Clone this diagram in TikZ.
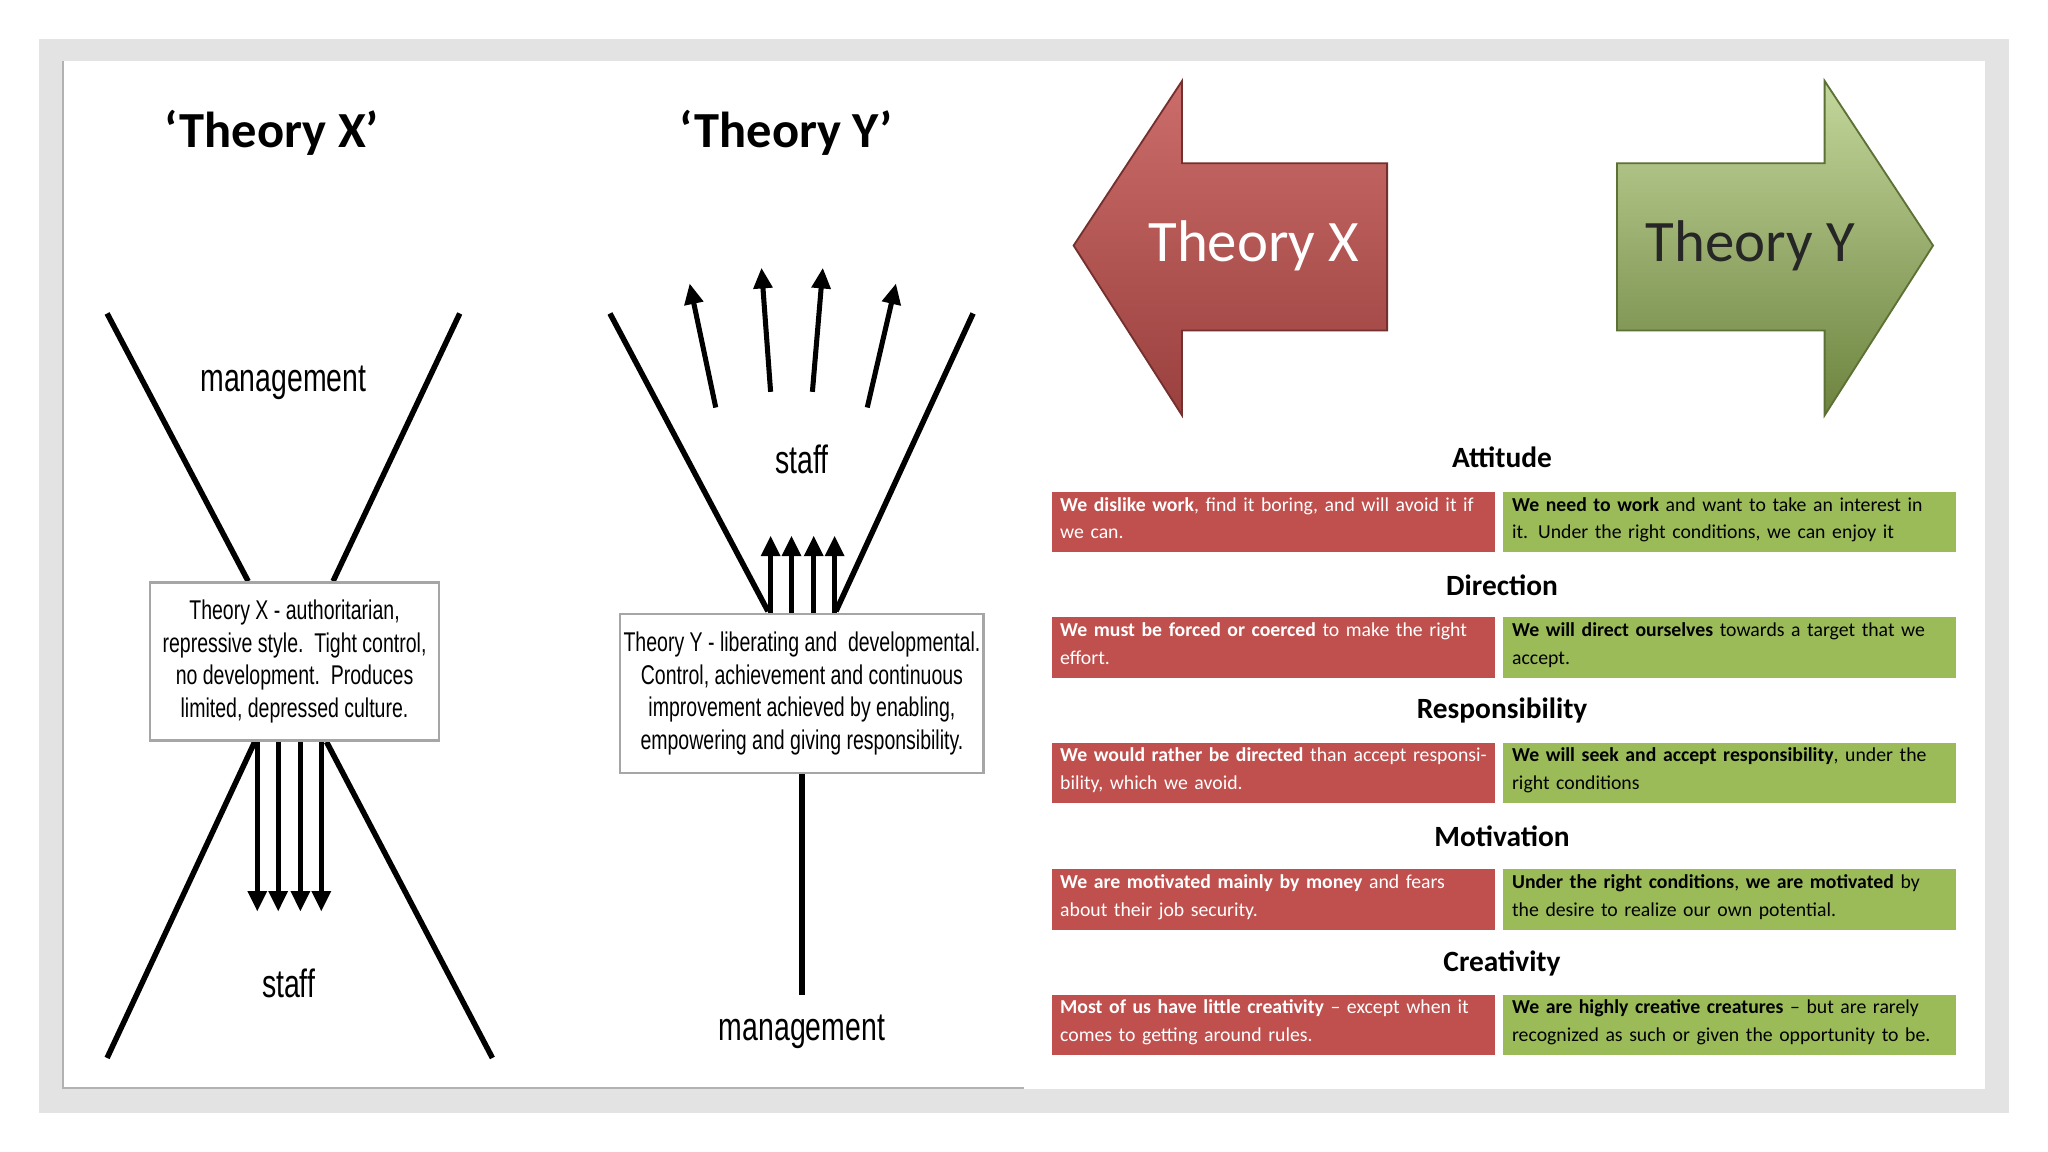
\documentclass[tikz,border=0pt]{standalone}
\usepackage{fontspec}
\setmainfont{Carlito}
\newfontfamily\narrowfont[FakeStretch=0.72]{Liberation Sans}
\usetikzlibrary{arrows.meta}
\definecolor{cred}{HTML}{C0504D}
\definecolor{cgreen}{HTML}{9BBB59}
\definecolor{frame}{HTML}{E3E3E3}
\tikzset{
 thick line/.style={line width=1.2pt},
 arr/.style={line width=1.1pt,-{Triangle[length=4.5pt,width=4pt]}},
 title/.style={font=\fontsize{11}{13}\selectfont\bfseries},
 lbl/.style={font=\narrowfont\fontsize{8.6}{10}\selectfont},
 boxt/.style={draw=gray!70,line width=0.5pt,align=center,inner sep=0pt,font=\narrowfont\fontsize{5.9}{7.1}\selectfont},
 head/.style={font=\fontsize{6.4}{7.5}\selectfont\bfseries},
 rcell/.style={fill=cred,text=white,minimum width=3.39cm,minimum height=0.46cm,anchor=north west,inner sep=0pt},
 gcell/.style={fill=cgreen,text=black!85,minimum width=3.47cm,minimum height=0.46cm,anchor=north west,inner sep=0pt},
 ctext/.style={anchor=north west,text width=3.3cm,align=left,inner sep=0pt,font=\fontsize{4.3}{6}\selectfont},
}
\begin{document}
\begin{tikzpicture}[x=0.01cm,y=-0.01cm]
\useasboundingbox (0,0) rectangle (1568,882);
\fill[white] (0,0) rectangle (1568,882);
\fill[frame] (30,30) rectangle (1538,852);
\fill[white] (48,47) rectangle (1520,834);
\draw[gray!60,line width=0.4pt] (48,47) -- (48,833) -- (784,833);
% Theory X
\node[title] (tx) at (208,102) {`Theory X'};
\coordinate (x1) at (82,240); \coordinate (x2) at (190,445);
\coordinate (x3) at (352,240); \coordinate (x4) at (255,445);
\coordinate (x5) at (195,568); \coordinate (x6) at (82,810);
\coordinate (x7) at (250,568); \coordinate (x8) at (377,810);
\draw[thick line] (x1)--(x2); \draw[thick line] (x3)--(x4);
\draw[thick line] (x5)--(x6); \draw[thick line] (x7)--(x8);
\node[lbl] (xm) at (217,293) {management};
\node[boxt,minimum width=2.21cm,minimum height=1.21cm] (xbox) at (225.5,506.5) {Theory X - authoritarian,\\repressive style.\ \ Tight control,\\no development.\ \ Produces\\limited, depressed culture.};
\foreach \x [count=\i] in {197,213,230,246}{
 \coordinate (xa\i) at (\x,568); \coordinate (xb\i) at (\x,698);
 \draw[arr] (xa\i)--(xb\i);}
\node[lbl] (xs) at (221,753) {staff};
% Theory Y
\node[title] (ty) at (602,102) {`Theory Y'};
\coordinate (y1) at (467,240); \coordinate (y2) at (588,468);
\coordinate (y3) at (745,240); \coordinate (y4) at (640,468);
\draw[thick line] (y1)--(y2); \draw[thick line] (y3)--(y4);
\foreach \x [count=\i] in {590,606,623,639}{
 \coordinate (ya\i) at (\x,470); \coordinate (yb\i) at (\x,410);
 \draw[arr] (ya\i)--(yb\i);}
\coordinate (u1a) at (548,312); \coordinate (u1b) at (528,217);
\coordinate (u2a) at (590,300); \coordinate (u2b) at (583,205);
\coordinate (u3a) at (622,300); \coordinate (u3b) at (630,205);
\coordinate (u4a) at (664,312); \coordinate (u4b) at (686,217);
\foreach \i in {1,2,3,4} \draw[arr] (u\i a)--(u\i b);
\node[lbl] (ys) at (614,352) {staff};
\node[boxt,minimum width=2.78cm,minimum height=1.22cm] (ybox) at (614,531) {Theory Y - liberating and\ \ developmental.\\Control, achievement and continuous\\improvement achieved by enabling,\\empowering and giving responsibility.};
\coordinate (yl) at (614,762);
\draw[thick line] (ybox.south)--(yl);
\node[lbl] (ym) at (614,790) {management};
% Big arrows
\shade[top color=red!70!black!10!cred!80!white,bottom color=cred!80!black,draw=cred!60!black,line width=0.4pt]
 (822,188) -- (905,62) -- (905,125) -- (1062,125) -- (1062,253) -- (905,253) -- (905,318) -- cycle;
\node[font=\fontsize{12.8}{14}\selectfont,text=white] (bx) at (960,188) {Theory X};
\shade[top color=cgreen!60!white,bottom color=cgreen!70!black,draw=cgreen!60!black,line width=0.4pt]
 (1480,188) -- (1397,62) -- (1397,125) -- (1238,125) -- (1238,253) -- (1397,253) -- (1397,318) -- cycle;
\node[font=\fontsize{12.8}{14}\selectfont,text=black!85] (by) at (1340,188) {Theory Y};
% Table
\foreach \h/\y [count=\i] in {Attitude/350,Direction/448,Responsibility/544,Motivation/640,Creativity/738}
 \node[head] (h\i) at (1150,\y) {\h};
\foreach \y [count=\i] in {376,472,568,665,761}{
 \node[rcell] (r\i) at (805,\y) {};
 \node[gcell] (g\i) at (1150,\y) {};}
\node[ctext,text=white] at (811,380) {\textbf{We dislike work}, find it boring, and will avoid it if we can.};
\node[ctext] at (1157,380) {\textbf{We need to work} and want to take an interest in it. Under the right conditions, we can enjoy it};
\node[ctext,text=white] at (811,476) {\textbf{We must be forced or coerced} to make the right effort.};
\node[ctext] at (1157,476) {\textbf{We will direct ourselves} towards a target that we accept.};
\node[ctext,text=white] at (811,572) {\textbf{We would rather be directed} than accept responsibility, which we avoid.};
\node[ctext] at (1157,572) {\textbf{We will seek and accept responsibility}, under the right conditions};
\node[ctext,text=white] at (811,669) {\textbf{We are motivated mainly by money} and fears about their job security.};
\node[ctext] at (1157,669) {\textbf{Under the right conditions}, \textbf{we are motivated} by the desire to realize our own potential.};
\node[ctext,text=white] at (811,765) {\textbf{Most of us have little creativity} -- except when it comes to getting around rules.};
\node[ctext] at (1157,765) {\textbf{We are highly creative creatures} -- but are rarely recognized as such or given the opportunity to be.};
\end{tikzpicture}
\end{document}
